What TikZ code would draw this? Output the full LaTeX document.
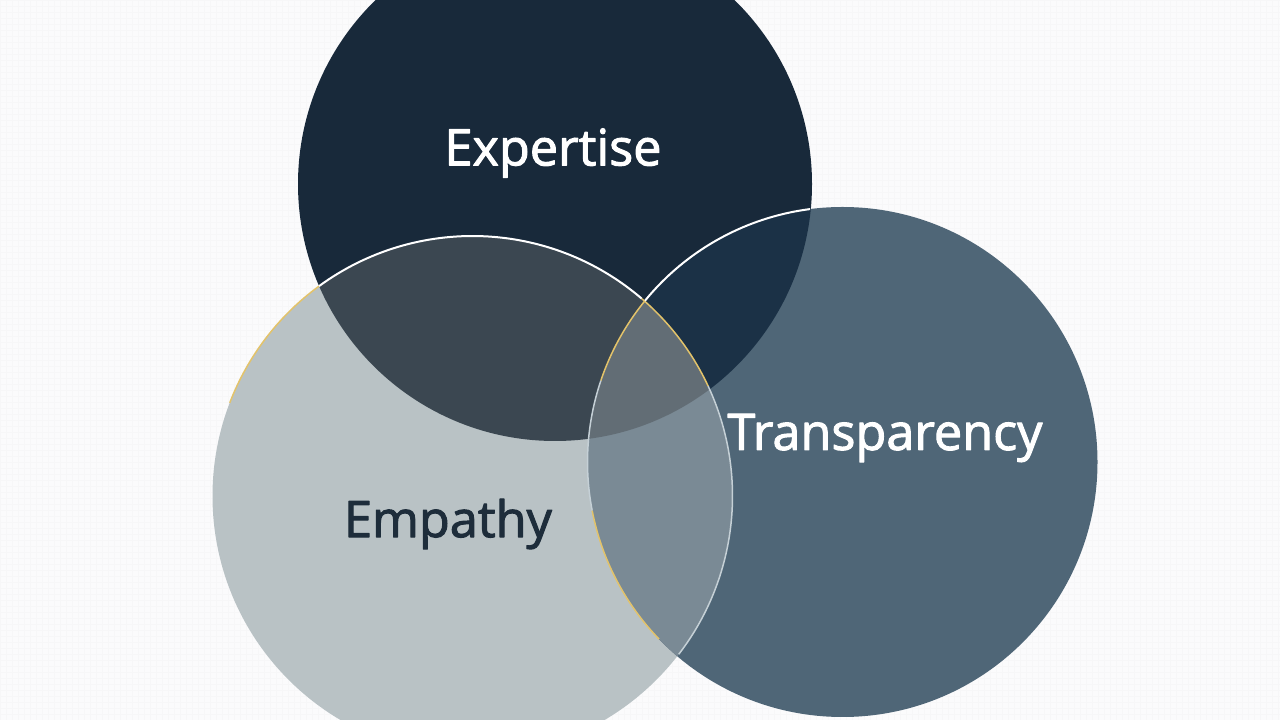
\documentclass[tikz,border=0pt]{standalone}
\usepackage{fontspec}
\setmainfont{Open Sans}
\newfontfamily\lblfont{Open Sans}
\newcommand{\heavytext}[1]{\special{pdf:code q 2 Tr 1 w 1 j}#1\special{pdf:code Q}}
\definecolor{bgc}{HTML}{FBFBFC}
\definecolor{gridc}{HTML}{F7F7F8}
\definecolor{expc}{HTML}{18293A}
\definecolor{empc}{HTML}{B9C2C5}
\definecolor{trac}{HTML}{4F6677}
\definecolor{eemc}{HTML}{3B4751}
\definecolor{etc}{HTML}{1B3146}
\definecolor{emtc}{HTML}{7A8A95}
\definecolor{allc}{HTML}{626D75}
\definecolor{goldc}{HTML}{E3C36A}
\definecolor{softc}{HTML}{C5D0D6}
\definecolor{darkt}{HTML}{1E2D3B}
\tikzset{x=1pt,y=1pt,
  lbl/.style={font=\lblfont\fontsize{50.4}{55}\selectfont},
  whitearc/.style={draw=white,line width=2pt},
  goldarc/.style={draw=goldc,line width=1.5pt},
  softarc/.style={draw=softc,line width=1.5pt}}
\def\cE{(555,536) circle (257)}
\def\cM{(472.5,224) circle (260)}
\def\cT{(842.5,258) circle (255)}
\begin{document}
\begin{tikzpicture}
\useasboundingbox (0,0) rectangle (1280,720);
\clip (0,0) rectangle (1280,720);
\fill[bgc] (0,0) rectangle (1280,720);
\draw[gridc,line width=0.4pt,step=6] (0,0) grid (1280,720);
\fill[expc] \cE;
\fill[empc] \cM;
\fill[trac] \cT;
\begin{scope}\clip \cE; \fill[eemc] \cM; \fill[etc] \cT; \end{scope}
\begin{scope}\clip \cM; \fill[emtc] \cT; \end{scope}
\begin{scope}\clip \cE; \clip \cM; \fill[allc] \cT; \end{scope}
% Empathy outline
\draw[whitearc] (472.5,224) ++(126.2:260) arc[start angle=126.2,end angle=49.4,radius=260];
\draw[goldarc] (472.5,224) ++(49.4:260) arc[start angle=49.4,end angle=25,radius=260];
\draw[softarc] (472.5,224) ++(25:260) arc[start angle=25,end angle=-37.5,radius=260];
\draw[goldarc] (472.5,224) ++(126.2:260) arc[start angle=126.2,end angle=159,radius=260];
% Transparency outline
\draw[whitearc] (842.5,258) ++(97.3:255) arc[start angle=97.3,end angle=140.8,radius=255];
\draw[goldarc] (842.5,258) ++(140.8:255) arc[start angle=140.8,end angle=161.4,radius=255];
\draw[softarc] (842.5,258) ++(161.4:255) arc[start angle=161.4,end angle=191,radius=255];
\draw[goldarc] (842.5,258) ++(191:255) arc[start angle=191,end angle=224,radius=255];
\node[lbl,text=white] (expertise) at (553,567) {\heavytext{Expertise}};
\node[lbl,text=white] (transparency) at (885,282) {\heavytext{Transparency}};
\node[lbl,text=darkt] (empathy) at (448,196) {\heavytext{Empathy}};
\end{tikzpicture}
\end{document}
